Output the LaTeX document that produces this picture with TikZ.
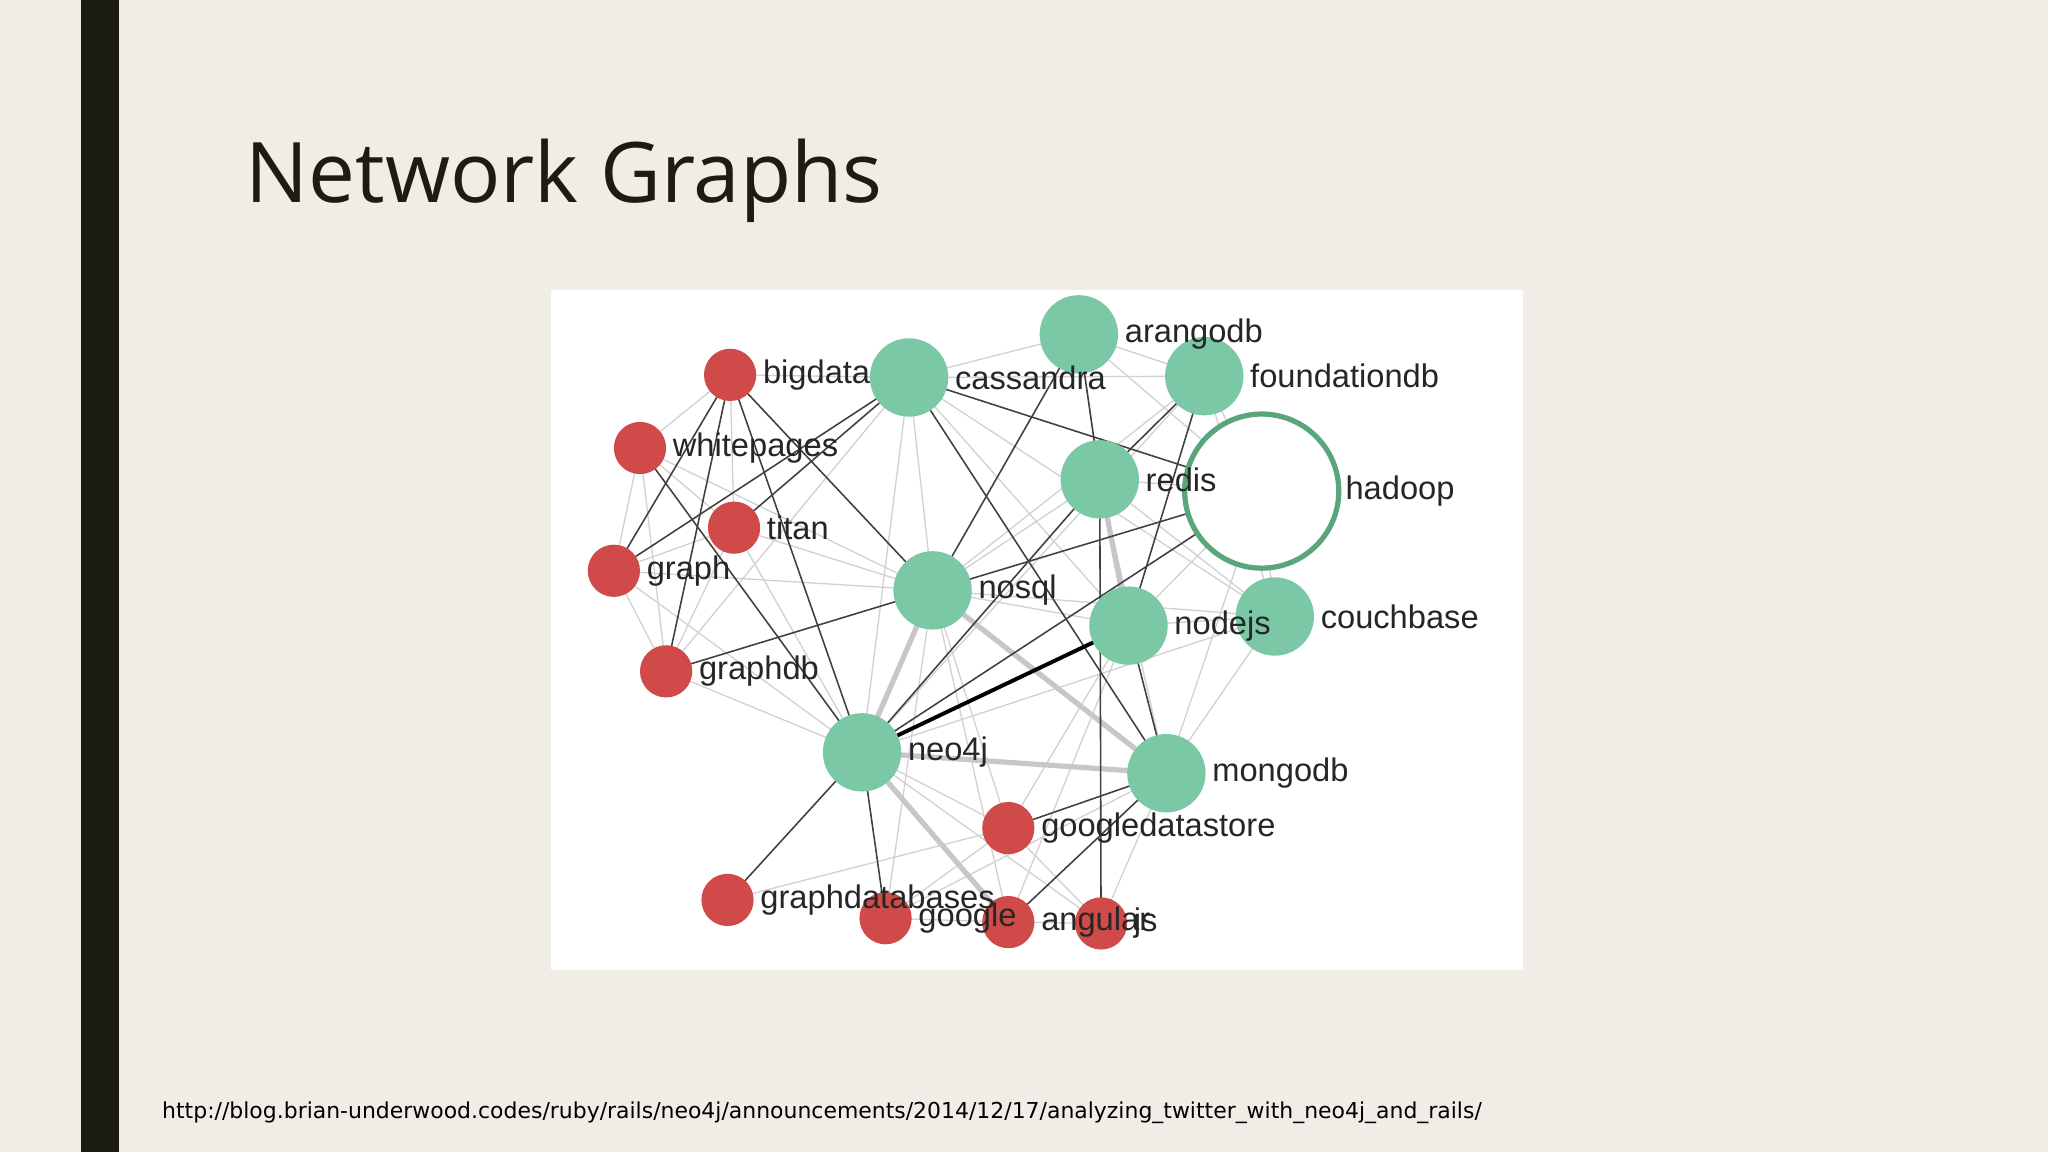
\documentclass[tikz,border=0pt]{standalone}
\usepackage{fontspec}
\setmainfont{Liberation Sans}
\newfontfamily\titlefont{Open Sans}
\newfontfamily\urlfont{DejaVu Sans}
\begin{document}
\begin{tikzpicture}[x=1pt,y=-1pt,
  rn/.style={circle,fill=nred,draw=none,minimum size=40pt,inner sep=0pt},
  gn/.style={circle,fill=ngreen,draw=none,minimum size=60pt,inner sep=0pt},
  lb/.style={font=\fontsize{25}{25}\selectfont,text=black!85,anchor=west,inner sep=0pt},
  dk/.style={draw=black!75,line width=1.2pt},
  lt/.style={draw=black!18,line width=1pt},
  tk/.style={draw=black!22,line width=4pt},
  bk/.style={draw=black,line width=3pt}]
\definecolor{nred}{HTML}{D04A4A}
\definecolor{ngreen}{HTML}{7AC8A6}
\definecolor{hring}{HTML}{5BA57A}
\definecolor{bgc}{HTML}{F0EDE6}
\definecolor{barc}{HTML}{1C1C14}
\useasboundingbox (0,0) rectangle (1568,882);
\fill[bgc] (0,0) rectangle (1568,882);
\fill[barc] (62,0) rectangle (91,882);
\node[anchor=base west,inner sep=0pt,font=\titlefont\fontsize{64}{64}\selectfont,text=barc] (title) at (188,155) {Network Graphs};
\node[anchor=base west,inner sep=0pt,font=\urlfont\fontsize{16.8}{16}\selectfont] (url) at (124,856) {http://blog.brian-underwood.codes/ruby/rails/neo4j/announcements/2014/12/17/analyzing\_twitter\_with\_neo4j\_and\_rails/};
\fill[white] (422,222) rectangle (1166,743);
\coordinate (bigdata) at (559,287);
\coordinate (whitepages) at (490,343);
\coordinate (titan) at (562,404);
\coordinate (graph) at (470,437);
\coordinate (graphdb) at (510,514);
\coordinate (graphdatabases) at (557,689);
\coordinate (google) at (678,703);
\coordinate (angular) at (772,706);
\coordinate (js) at (843,707);
\coordinate (gds) at (772,634);
\coordinate (neo4j) at (660,576);
\coordinate (nosql) at (714,452);
\coordinate (cassandra) at (696,289);
\coordinate (arangodb) at (826,256);
\coordinate (foundationdb) at (922,288);
\coordinate (redis) at (842,367);
\coordinate (hadoop) at (966,376);
\coordinate (nodejs) at (864,479);
\coordinate (couchbase) at (976,472);
\coordinate (mongodb) at (893,592);
\foreach \a/\b in {bigdata/whitepages,bigdata/titan,bigdata/cassandra,whitepages/graph,whitepages/graphdb,whitepages/titan,whitepages/nosql,graph/graphdb,graph/nosql,graph/neo4j,graph/titan,titan/graphdb,titan/nosql,titan/neo4j,graphdb/neo4j,graphdb/cassandra,cassandra/arangodb,cassandra/nosql,cassandra/neo4j,cassandra/foundationdb,cassandra/nodejs,cassandra/couchbase,arangodb/foundationdb,arangodb/hadoop,arangodb/redis,foundationdb/hadoop,foundationdb/couchbase,foundationdb/nosql,redis/hadoop,redis/couchbase,redis/nosql,hadoop/couchbase,hadoop/nodejs,hadoop/mongodb,nosql/nodejs,nosql/couchbase,nosql/gds,nosql/angular,nosql/google,neo4j/gds,neo4j/js,neo4j/couchbase,nodejs/couchbase,nodejs/gds,couchbase/mongodb,mongodb/google,mongodb/js,gds/js,gds/google,google/angular,angular/js,graphdatabases/gds,nodejs/angular,redis/mongodb,neo4j/foundationdb}
  \path[lt] (\a) -- (\b);
\foreach \a/\b in {neo4j/nosql,nosql/mongodb,neo4j/mongodb,neo4j/angular,redis/nodejs}
  \path[tk] (\a) -- (\b);
\foreach \a/\b in {bigdata/graph,bigdata/graphdb,bigdata/neo4j,bigdata/nosql,whitepages/neo4j,cassandra/graph,cassandra/titan,cassandra/hadoop,cassandra/mongodb,arangodb/nosql,graphdb/nosql,nosql/hadoop,neo4j/hadoop,neo4j/graphdatabases,neo4j/google,foundationdb/nodejs,foundationdb/redis,nodejs/mongodb,gds/mongodb,angular/mongodb,arangodb/redis,neo4j/redis,redis/js}
  \path[dk] (\a) -- (\b);
\path[bk] (neo4j) -- (nodejs);
\foreach \n in {bigdata,whitepages,titan,graph,graphdb,graphdatabases,google,angular,js,gds}{
  \node[rn] (\n-c) at (\n) {};
}
\foreach \n in {neo4j,nosql,cassandra,arangodb,foundationdb,redis,nodejs,couchbase,mongodb}{
  \node[gn] (\n-c) at (\n) {};
}
\node[circle,draw=hring,fill=white,line width=4pt,minimum size=118pt,inner sep=0pt] (hadoop-c) at (hadoop) {};
\foreach \n/\t in {bigdata/bigdata,whitepages/whitepages,titan/titan,graph/graph,graphdb/graphdb,graphdatabases/graphdatabases,google/google,angular/angular,js/js,gds/googledatastore}{
  \node[lb] (\n-l) at ([xshift=25pt]\n) {\t};
}
\foreach \n in {neo4j,nosql,cassandra,arangodb,foundationdb,redis,nodejs,couchbase,mongodb}{
  \node[lb] (\n-l) at ([xshift=35pt]\n) {\n};
}
\node[lb] (hadoop-l) at ([xshift=64pt]hadoop) {hadoop};
\end{tikzpicture}
\end{document}
